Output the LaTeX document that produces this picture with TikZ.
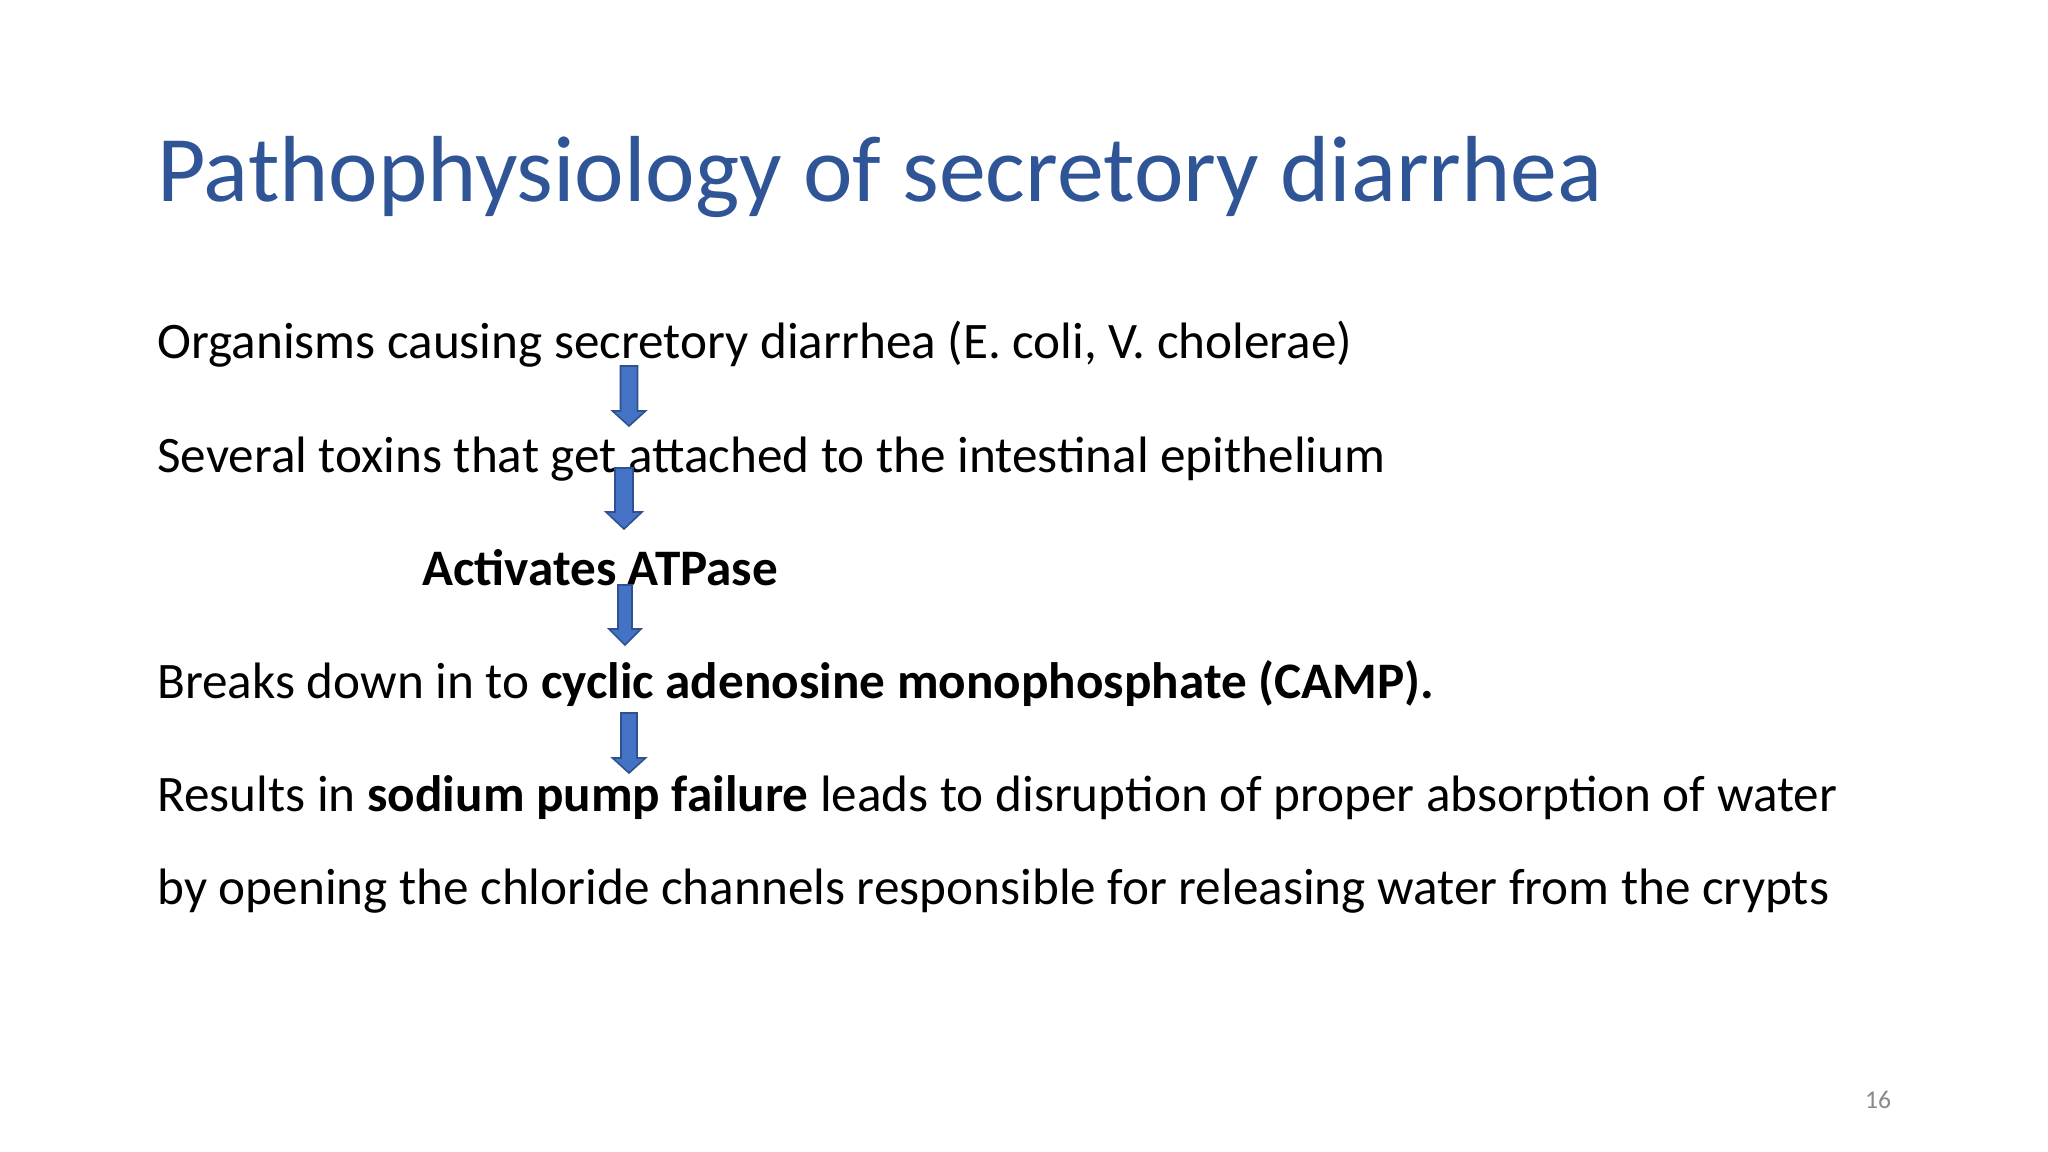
\documentclass[tikz,border=0pt]{standalone}
\usepackage{fontspec}
\setmainfont{Carlito}
\definecolor{titleblue}{HTML}{2F5597}
\definecolor{arrowfill}{HTML}{4472C4}
\definecolor{arrowline}{HTML}{2F528F}
\definecolor{pagegray}{HTML}{898989}
\tikzset{
  line/.style={anchor=base west,inner sep=0pt,font=\fontsize{24}{29}\selectfont},
  downarrow/.style={fill=arrowfill,draw=arrowline,line width=0.75pt,line join=miter}
}
\begin{document}
\begin{tikzpicture}[x=0.46875pt,y=-0.46875pt]
                \useasboundingbox[fill=white] (0,0) rectangle (2048,1152);
                \node[anchor=base west,inner sep=0pt,text=titleblue,font=\fontsize{44}{53}\selectfont] (title) at (157,202) {Pathophysiology of secretory diarrhea};
                \node[line] (organisms) at (157,358) {Organisms causing secretory diarrhea (E. coli, V. cholerae)};
                \node[line] (toxins) at (157,472) {Several toxins that get attached to the intestinal epithelium};
                \node[line] (atpase) at (422,585) {\bfseries Activates ATPase};
                \node[line] (camp) at (157,698) {Breaks down in to \textbf{cyclic adenosine monophosphate (CAMP).}};
                \node[line] (pump) at (157,811) {Results in \textbf{sodium pump failure} leads to disruption of proper absorption of water};
                \node[line] (chloride) at (157,904) {by opening the chloride channels responsible for releasing water from the crypts};
                % block arrows between the lines
                \foreach \x/\top/\neck/\tip/\sw/\hw in {629/366/411/426/8.5/16.5, 624/468/512/529/9/18, 625/585/629/645/7/16, 629/713/758/773/8/16.5}
                  \draw[downarrow] ({\x-\sw},\top) -- ({\x+\sw},\top) -- ({\x+\sw},\neck) -- ({\x+\hw},\neck)
                    -- (\x,\tip) -- ({\x-\hw},\neck) -- ({\x-\sw},\neck) -- cycle;
                \node[text=pagegray,font=\fontsize{12}{14}\selectfont,inner sep=0pt] (pagenum) at (1878,1100) {16};
            \end{tikzpicture}
\end{document}
